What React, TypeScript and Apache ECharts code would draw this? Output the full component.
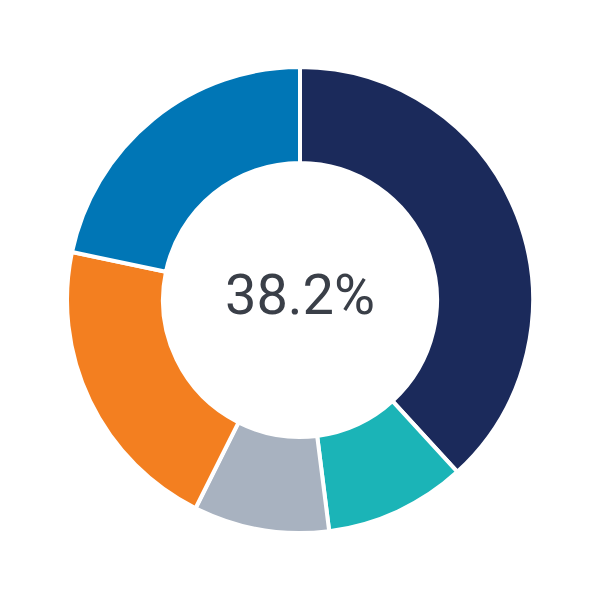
import React, { useEffect, useRef } from "react";
import * as echarts from "echarts";

const categories = ["Navy", "Teal", "Gray", "Orange", "Blue"];
const values = [38.2, 9.8, 9.4, 20.9, 21.7];
const colors = ["#1b2a5b", "#1bb4b7", "#a8b2c0", "#f37f20", "#0076b6"];
const centerLabel = "38.2%";

export default function App() {
  const ref = useRef<HTMLDivElement>(null);
  useEffect(() => {
    if (!ref.current) return;
    const chart = echarts.init(ref.current, null, { renderer: "svg" });
    chart.setOption({
      animation: false,
      backgroundColor: "#ffffff",
      graphic: [
        {
          type: "text",
          x: 300,
          y: 295,
          style: {
            text: centerLabel,
            fontFamily: "Roboto",
            fontSize: 56,
            fontWeight: "normal",
            fill: "#3a3f48",
            textAlign: "center",
            textVerticalAlign: "middle",
          },
        },
      ],
      series: [
        {
          type: "pie",
          center: [300, 300],
          radius: [137, 233],
          startAngle: 90,
          clockwise: true,
          label: { show: false },
          labelLine: { show: false },
          itemStyle: { borderColor: "#ffffff", borderWidth: 4 },
          emphasis: { disabled: true },
          data: categories.map((name, i) => ({
            name,
            value: values[i],
            itemStyle: { color: colors[i] },
          })),
        },
      ],
    });
    return () => chart.dispose();
  }, []);
  return (
    <div
      ref={ref}
      style={{ position: "fixed", left: 0, top: 0, width: 600, height: 600 }}
    />
  );
}
